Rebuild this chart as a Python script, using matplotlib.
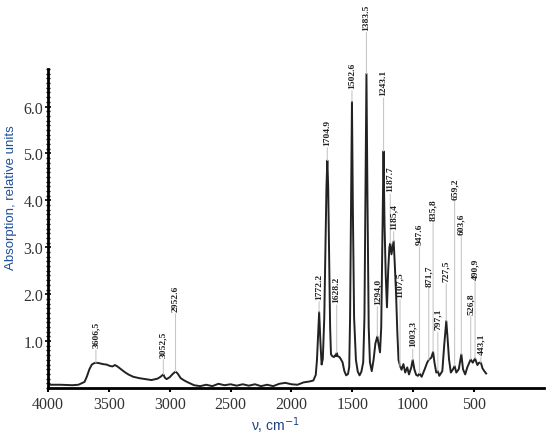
import numpy as np
import matplotlib
matplotlib.use("Agg")
import matplotlib.pyplot as plt
from matplotlib.ticker import MultipleLocator

# spectrum (wavenumber, cm-1 / absorption)
nu = [4000, 3900, 3800, 3750, 3700, 3680, 3660, 3640, 3620, 3606.5, 3580, 3550,
      3520, 3490, 3470, 3450, 3430, 3400, 3370, 3340, 3300, 3250, 3200, 3150,
      3100, 3075, 3052.5, 3040, 3025, 3000, 2975, 2952.6, 2935, 2910, 2880, 2850,
      2800, 2750, 2700, 2650, 2600, 2550, 2500, 2450, 2400, 2350, 2300, 2250,
      2200, 2150, 2100, 2050, 2000, 1950, 1900, 1850, 1820, 1800, 1790, 1780,
      1772.2, 1762, 1752, 1742, 1730, 1720, 1712, 1704.9, 1698, 1690, 1682, 1675,
      1665, 1650, 1640, 1633, 1628.2, 1620, 1605, 1595, 1580, 1565, 1550, 1535,
      1525, 1518, 1510, 1502.6, 1495, 1485, 1470, 1455, 1440, 1425, 1410, 1400,
      1392, 1383.5, 1375, 1365, 1355, 1340, 1325, 1310, 1294.0, 1285, 1272, 1262,
      1252, 1243.1, 1235, 1225, 1215, 1205, 1195, 1187.7, 1178, 1160, 1150, 1140,
      1130, 1120, 1107.5, 1095, 1080, 1065, 1048, 1034, 1015, 1003.3, 990, 975,
      960, 947.6, 930, 905, 885, 871.7, 850, 835.8, 825, 810, 797.1, 785,
      760, 745, 727.5, 718, 705, 690, 672, 659.2, 645, 625, 603.6, 590,
      572, 555, 526.8, 510, 490.9, 472, 458, 443.1, 430, 415, 400]
absorb = [0.07, 0.07, 0.06, 0.07, 0.13, 0.25, 0.40, 0.50, 0.53, 0.54, 0.53, 0.51,
          0.50, 0.47, 0.46, 0.49, 0.46, 0.40, 0.34, 0.29, 0.24, 0.21, 0.19, 0.17,
          0.20, 0.24, 0.29, 0.22, 0.19, 0.23, 0.30, 0.35, 0.31, 0.21, 0.16, 0.12,
          0.06, 0.04, 0.07, 0.04, 0.09, 0.06, 0.08, 0.05, 0.08, 0.05, 0.08, 0.04,
          0.07, 0.04, 0.09, 0.11, 0.08, 0.07, 0.12, 0.14, 0.16, 0.28, 0.60, 1.20,
          1.62, 1.00, 0.50, 0.62, 1.50, 3.00, 4.30, 4.85, 4.30, 2.80, 1.30, 0.72,
          0.68, 0.66, 0.70, 0.68, 0.75, 0.68, 0.66, 0.62, 0.55, 0.36, 0.27, 0.30,
          0.45, 1.50, 4.00, 6.10, 3.80, 1.50, 0.60, 0.35, 0.27, 0.35, 0.55, 1.50,
          4.00, 6.70, 4.00, 1.30, 0.55, 0.36, 0.60, 0.95, 1.10, 0.95, 0.76, 1.30,
          3.20, 5.05, 3.50, 2.40, 1.72, 2.50, 3.00, 3.08, 2.85, 3.13, 2.60, 2.00,
          1.20, 0.60, 0.47, 0.39, 0.51, 0.33, 0.44, 0.29, 0.44, 0.60, 0.40, 0.28,
          0.26, 0.31, 0.24, 0.40, 0.54, 0.60, 0.65, 0.77, 0.55, 0.33, 0.36, 0.26,
          0.36, 0.90, 1.43, 1.10, 0.61, 0.33, 0.40, 0.47, 0.33, 0.40, 0.72, 0.40,
          0.29, 0.44, 0.61, 0.54, 0.63, 0.49, 0.54, 0.54, 0.42, 0.36, 0.31]

# peak labels, where their leader line stands, and the height the text starts at
peak_labels = ["3606,5", "3052,5", "2952.6", "1772.2", "1704.9", "1628.2", "1502.6",
               "1383.5", "1294,0", "1243.1", "1187.7", "1185,4", "1107,5", "1003,3",
               "947.6", "871,7", "835,8", "797,1", "727,5", "659,2", "603,6",
               "526,8", "490,9", "443,1"]
peak_nu = [3606.5, 3052.5, 2952.6, 1772.2, 1704.9, 1628.2, 1502.6, 1383.5, 1294.0,
           1243.1, 1187.7, 1160, 1107.5, 1003.3, 947.6, 871.7, 835.8, 797.1, 727.5,
           659.2, 603.6, 526.8, 490.9, 443.1]
text_y = [0.87, 0.66, 1.64, 1.90, 5.18, 1.83, 6.40, 7.64, 1.79, 6.24, 4.19, 3.39,
          1.94, 0.89, 3.07, 2.18, 3.58, 1.25, 2.28, 4.04, 3.29, 1.58, 2.33, 0.72]

fig = plt.figure(figsize=(5.5, 4.35), dpi=100)
ax = fig.add_axes([0.0873, 0.1057, 0.9017, 0.7333])

ax.plot(nu, absorb, color="#222222", lw=1.4)

for lab, x, ty in zip(peak_labels, peak_nu, text_y):
    y = np.interp(x, nu[::-1], absorb[::-1])
    ax.annotate(lab, xy=(x, y), xytext=(x, ty), rotation=90, ha="center", va="bottom",
                fontsize=6.8, family="Liberation Serif", fontweight="bold", color="#222222",
                annotation_clip=False,
                arrowprops=dict(arrowstyle="-", color="#c8c8c8", lw=0.8, shrinkA=0, shrinkB=0))

ax.set_xlim(4000, -75)
ax.set_ylim(0, 6.8)
ax.set_xticks([4000, 3500, 3000, 2500, 2000, 1500, 1000, 500])
ax.set_yticks([1.0, 2.0, 3.0, 4.0, 5.0, 6.0])
ax.set_yticklabels(["1.0", "2.0", "3.0", "4.0", "5.0", "6.0"])
ax.yaxis.set_minor_locator(MultipleLocator(0.1))

for s in ["top", "right"]:
    ax.spines[s].set_visible(False)
for s in ["left", "bottom"]:
    ax.spines[s].set_linewidth(2)
    ax.spines[s].set_color("black")

ax.tick_params(axis="x", direction="out", length=3, width=1.5, pad=3)
ax.tick_params(axis="y", which="major", direction="inout", length=5, width=1.2, pad=1)
ax.tick_params(axis="y", which="minor", direction="inout", length=3, width=1)
for lab in ax.get_xticklabels() + ax.get_yticklabels():
    lab.set_fontfamily("Liberation Serif")
    lab.set_fontsize(11.5)
    lab.set_color("#333333")

ax.set_ylabel("Absorption, relative units", fontsize=9.5, color="#1f4e9a",
              family="Liberation Sans")
ax.yaxis.set_label_coords(-0.062, 0.6)
ax.set_xlabel("ν, cm$^{-1}$", fontsize=10, color="#1f3f80", family="Liberation Sans")
ax.xaxis.set_label_coords(0.458, -0.083)

fig.savefig("out.png", dpi=100)
